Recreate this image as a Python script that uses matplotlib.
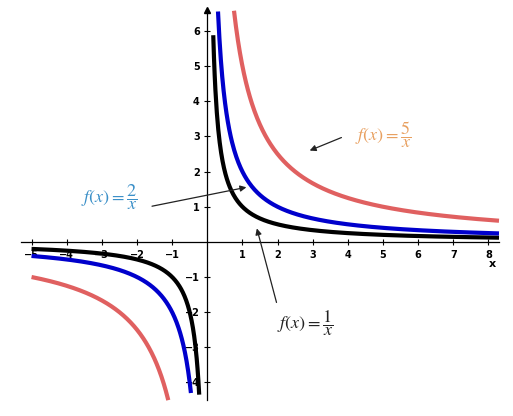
import numpy as np
import matplotlib
matplotlib.use("Agg")
import matplotlib.pyplot as plt

ks = [1, 2, 5]
colors = ["#000000", "#0000cc", "#e06060"]
pos_start = [0.17, 0.305, 0.76]
neg_end = [-0.23, -0.465, -1.11]
xticks = [-5, -4, -3, -2, -1, 1, 2, 3, 4, 5, 6, 7, 8]
yticks = [-4, -3, -2, -1, 1, 2, 3, 4, 5, 6]

plt.rcParams['mathtext.fontset'] = 'stix'
fig = plt.figure(figsize=(5.13, 4.16), dpi=100)
ax = fig.add_axes([21/513, 16/416, 478/513, 390/416])
ax.set_xlim(-5.3, 8.3)
ax.set_ylim(-4.5, 6.6)
for s in ['top', 'right']:
    ax.spines[s].set_visible(False)
ax.spines['left'].set_position(('data', 0))
ax.spines['bottom'].set_position(('data', 0))
for s in ['left', 'bottom']:
    ax.spines[s].set_linewidth(0.9)
ax.set_xticks(xticks)
ax.set_yticks(yticks)
ax.set_xticklabels([str(t).replace('-', '−') for t in xticks])
ax.set_yticklabels([str(t).replace('-', '−') for t in yticks])
ax.tick_params(direction='inout', length=4, labelsize=7, width=0.8)
for lab in ax.get_xticklabels() + ax.get_yticklabels():
    lab.set_fontweight('bold')
ax.text(8.12, -0.72, 'x', fontsize=8, fontweight='bold', ha='center')
ax.plot(0, 6.6, marker='^', color='k', markersize=4, clip_on=False)

for k, c, ps, ne in zip(ks, colors, pos_start, neg_end):
    xp = np.linspace(ps, 8.3, 400)
    xn = np.linspace(-5, ne, 400)
    ax.plot(xp, k / xp, color=c, lw=3.0, solid_capstyle='butt', clip_on=False)
    ax.plot(xn, k / xn, color=c, lw=3.0, solid_capstyle='butt', clip_on=False)

ap = dict(arrowstyle='-|>', color='#222222', lw=0.9, mutation_scale=9)
ax.annotate('', xy=(2.84, 2.57), xytext=(3.89, 3.0), arrowprops=ap)
ax.annotate('', xy=(1.19, 1.57), xytext=(-1.65, 1.0), arrowprops=ap)
ax.annotate('', xy=(1.39, 0.46), xytext=(1.99, -1.8), arrowprops=ap)
ax.text(5.0, 3.06, r'$f(x)=\dfrac{5}{x}$', color='#e8a060', fontsize=13, ha='center', va='center')
ax.text(-2.8, 1.26, r'$f(x)=\dfrac{2}{x}$', color='#3a8fc8', fontsize=13, ha='center', va='center')
ax.text(2.78, -2.3, r'$f(x)=\dfrac{1}{x}$', color='#222222', fontsize=13, ha='center', va='center')
fig.savefig('out.png', dpi=100)
